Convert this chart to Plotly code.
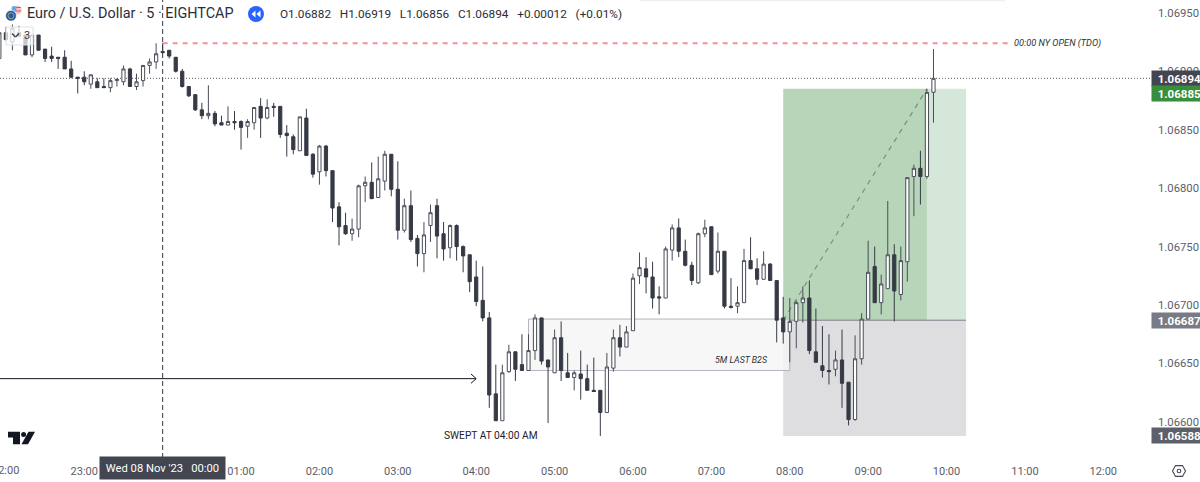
import pandas as pd
import plotly.graph_objects as go

# ---------- data ----------
first_bar = "2023-11-07 21:55"
bar_minutes = 5
opens = [1.06911,1.06933,1.06925,1.06933,1.06931,1.06914,1.06931,1.06919,1.06913,1.06912,1.06912,1.06902,1.06895,1.06895,1.06889,1.06891,1.06887,1.06886,1.06892,1.06891,1.06902,1.06887,1.06892,1.06905,1.06908,
 1.06917,1.06918,1.06912,1.06900,1.06887,1.06880,1.06867,1.06862,1.06864,1.06856,1.06854,1.06857,1.06857,1.06853,1.06856,1.06870,1.06860,1.06870,1.06870,1.06847,1.06844,1.06832,1.06860,1.06829,1.06814,1.06836,
 1.06815,1.06784,1.06768,1.06761,1.06765,1.06802,1.06805,1.06792,1.06806,1.06829,1.06799,1.06764,1.06785,1.06757,1.06744,1.06768,1.06785,1.06761,1.06749,1.06768,1.06750,1.06743,1.06724,1.06704,1.06689,1.06624,1.06601,1.06643,1.06660,1.06649,1.06644,1.06661,1.06689,1.06653,1.06642,1.06672,1.06642,1.06638,1.06641,1.06637,1.06627,1.06627,1.06608,1.06646,1.06672,1.06664,1.06678,1.06725,1.06731,1.06724,1.06707,1.06706,1.06747,1.06766,1.06746,1.06734,1.06719,1.06761,1.06767,1.06729,1.06746,1.06699,1.06699,1.06702,1.06738,1.06731,1.06722,1.06735,1.06721,1.06689,1.06677,1.06686,1.06702,1.06706,1.06660,1.06648,1.06644,1.06645,1.06653,1.06634,1.06602,1.06654,1.06688,1.06733,1.06702,1.06714,1.06743,1.06709,1.06737,1.06810,1.06817,1.06810,1.06882]
highs = [1.06933,1.06938,1.06940,1.06939,1.06931,1.06931,1.06931,1.06919,1.06921,1.06912,1.06918,1.06909,1.06895,1.06900,1.06897,1.06894,1.06894,1.06894,1.06894,1.06905,1.06903,1.06898,1.06905,1.06911,1.06924,
 1.06924,1.06918,1.06912,1.06902,1.06887,1.06880,1.06873,1.06888,1.06866,1.06862,1.06870,1.06866,1.06858,1.06859,1.06869,1.06877,1.06876,1.06873,1.06870,1.06854,1.06846,1.06861,1.06868,1.06830,1.06837,1.06837,
 1.06815,1.06788,1.06779,1.06774,1.06803,1.06810,1.06822,1.06827,1.06832,1.06829,1.06823,1.06791,1.06798,1.06760,1.06771,1.06786,1.06791,1.06771,1.06769,1.06769,1.06751,1.06743,1.06738,1.06733,1.06694,1.06649,1.06649,1.06666,1.06660,1.06675,1.06675,1.06692,1.06689,1.06653,1.06679,1.06686,1.06659,1.06644,1.06661,1.06649,1.06655,1.06627,1.06659,1.06679,1.06683,1.06682,1.06727,1.06745,1.06741,1.06737,1.06716,1.06750,1.06769,1.06774,1.06756,1.06737,1.06762,1.06773,1.06767,1.06762,1.06746,1.06723,1.06716,1.06748,1.06758,1.06740,1.06746,1.06736,1.06721,1.06707,1.06706,1.06704,1.06716,1.06721,1.06697,1.06682,1.06675,1.06661,1.06679,1.06634,1.06674,1.06693,1.06755,1.06750,1.06726,1.06789,1.06752,1.06750,1.06809,1.06820,1.06832,1.06885,1.06919]
lows = [1.06911,1.06927,1.06918,1.06930,1.06914,1.06912,1.06918,1.06908,1.06908,1.06902,1.06902,1.06894,1.06881,1.06888,1.06885,1.06886,1.06886,1.06882,1.06887,1.06888,1.06887,1.06884,1.06887,1.06898,1.06902,
 1.06915,1.06911,1.06899,1.06886,1.06878,1.06866,1.06859,1.06859,1.06853,1.06854,1.06854,1.06850,1.06833,1.06843,1.06850,1.06843,1.06859,1.06861,1.06843,1.06827,1.06829,1.06832,1.06828,1.06809,1.06803,1.06810,
 1.06771,1.06751,1.06760,1.06755,1.06758,1.06788,1.06791,1.06792,1.06798,1.06793,1.06756,1.06762,1.06754,1.06733,1.06728,1.06754,1.06740,1.06738,1.06740,1.06738,1.06728,1.06711,1.06699,1.06686,1.06612,1.06601,1.06601,1.06642,1.06635,1.06644,1.06644,1.06653,1.06649,1.06599,1.06642,1.06635,1.06638,1.06627,1.06619,1.06627,1.06626,1.06588,1.06608,1.06643,1.06656,1.06664,1.06678,1.06718,1.06710,1.06697,1.06692,1.06706,1.06738,1.06741,1.06733,1.06717,1.06718,1.06758,1.06726,1.06727,1.06697,1.06697,1.06693,1.06702,1.06731,1.06717,1.06722,1.06721,1.06668,1.06667,1.06651,1.06663,1.06685,1.06658,1.06651,1.06638,1.06632,1.06639,1.06612,1.06597,1.06601,1.06649,1.06688,1.06702,1.06692,1.06714,1.06686,1.06704,1.06720,1.06776,1.06786,1.06808,1.06856]
closes = [1.06933,1.06927,1.06937,1.06930,1.06914,1.06931,1.06918,1.06911,1.06911,1.06911,1.06902,1.06895,1.06894,1.06891,1.06897,1.06886,1.06886,1.06892,1.06893,1.06902,1.06887,1.06891,1.06905,1.06908,1.06915,
 1.06916,1.06913,1.06900,1.06887,1.06879,1.06867,1.06862,1.06864,1.06855,1.06854,1.06857,1.06856,1.06852,1.06857,1.06869,1.06860,1.06869,1.06869,1.06846,1.06845,1.06833,1.06861,1.06828,1.06812,1.06836,1.06815,
 1.06783,1.06767,1.06761,1.06765,1.06802,1.06805,1.06791,1.06808,1.06829,1.06799,1.06764,1.06785,1.06756,1.06744,1.06760,1.06779,1.06759,1.06748,1.06768,1.06750,1.06742,1.06720,1.06703,1.06689,1.06623,1.06601,1.06642,1.06660,1.06645,1.06644,1.06661,1.06689,1.06652,1.06647,1.06672,1.06644,1.06638,1.06642,1.06637,1.06627,1.06626,1.06608,1.06647,1.06672,1.06664,1.06677,1.06723,1.06732,1.06724,1.06706,1.06706,1.06748,1.06766,1.06746,1.06734,1.06721,1.06761,1.06766,1.06726,1.06746,1.06699,1.06698,1.06702,1.06738,1.06731,1.06722,1.06735,1.06721,1.06687,1.06677,1.06686,1.06702,1.06706,1.06661,1.06651,1.06644,1.06643,1.06653,1.06633,1.06602,1.06654,1.06688,1.06728,1.06702,1.06718,1.06743,1.06712,1.06738,1.06809,1.06817,1.06810,1.06882,1.06894]
assert len(opens) == len(highs) == len(lows) == len(closes) == 144

price_ticks = [1.06600, 1.06650, 1.06700, 1.06750, 1.06800, 1.06850, 1.06900, 1.06950]
time_ticks = ["2023-11-07 23:00", "2023-11-08 01:00", "2023-11-08 02:00", "2023-11-08 03:00", "2023-11-08 04:00",
              "2023-11-08 05:00", "2023-11-08 06:00", "2023-11-08 07:00", "2023-11-08 08:00", "2023-11-08 09:00",
              "2023-11-08 10:00", "2023-11-08 11:00", "2023-11-08 12:00"]
time_labels = ["23:00", "01:00", "02:00", "03:00", "04:00", "05:00", "06:00", "07:00", "08:00", "09:00",
               "10:00", "11:00", "12:00"]
last_price = 1.06894
tdo_price = 1.06924
target_price = 1.06885
entry_price = 1.06687
stop_price = 1.06588
b2s_top, b2s_bottom = 1.06688, 1.06644
swept_price = 1.06637
x_view = ["2023-11-07 21:55:30", "2023-11-08 12:36:30"]
y_view = [1.065691, 1.06961]

INK = "#363a45"
AXIS_TEXT = "#5a5e6b"
FONT = "Roboto, Arial, sans-serif"
W, H = 1200, 482
PW, PH = 1151, 458


def px(x):
    return x / PW


def py(y):
    return 1 - y / PH


def ui_path(points, **kw):
    d = "M " + " L ".join(f"{px(a):.5f},{py(b):.5f}" for a, b in points) + " Z"
    return dict(type="path", xref="paper", yref="paper", path=d, layer="above", **kw)


def ui_circle(cx, cy, r, **kw):
    return dict(type="circle", xref="paper", yref="paper", x0=px(cx - r), x1=px(cx + r),
                y0=py(cy + r), y1=py(cy - r), layer="above", **kw)


times = pd.date_range(first_bar, periods=len(opens), freq=f"{bar_minutes}min")

fig = go.Figure(go.Candlestick(
    x=times, open=opens, high=highs, low=lows, close=closes,
    whiskerwidth=0,
    increasing=dict(line=dict(color="#4a4d58", width=1), fillcolor="#ffffff"),
    decreasing=dict(line=dict(color=INK, width=1), fillcolor=INK),
    hoverinfo="skip", showlegend=False,
))

shapes = [
    # long-position boxes
    dict(type="rect", x0="2023-11-08 07:55", x1="2023-11-08 09:45", y0=entry_price, y1=target_price,
         fillcolor="#b7d5b8", line_width=0, layer="below"),
    dict(type="rect", x0="2023-11-08 09:45", x1="2023-11-08 10:15", y0=entry_price, y1=target_price,
         fillcolor="#d5e7d8", line_width=0, layer="below"),
    dict(type="rect", x0="2023-11-08 07:55", x1="2023-11-08 10:15", y0=stop_price, y1=entry_price,
         fillcolor="#dedee1", line_width=0, layer="below"),
    dict(type="line", x0="2023-11-08 07:55", x1="2023-11-08 10:15", y0=entry_price, y1=entry_price,
         line=dict(color="#7c7f8a", width=1), layer="below"),
    dict(type="line", x0="2023-11-08 07:55", x1="2023-11-08 09:45", y0=entry_price, y1=target_price,
         line=dict(color="#7f8a84", width=1.2, dash="5px,5px"), layer="below"),
    # 5M last B2S box
    dict(type="rect", x0="2023-11-08 04:40", x1="2023-11-08 08:00", y0=b2s_bottom, y1=b2s_top,
         fillcolor="rgba(245,245,245,0.8)", line=dict(color="#b2b5be", width=1), layer="below"),
    # levels
    dict(type="line", x0="2023-11-08 00:00", x1="2023-11-08 10:47", y0=tdo_price, y1=tdo_price,
         line=dict(color="#fb8f98", width=2, dash="5px,5px"), layer="below"),
    dict(type="line", xref="paper", x0=0, x1=1, y0=last_price, y1=last_price,
         line=dict(color="#50535e", width=1, dash="1px,2px"), layer="below"),
    # swept arrow
    dict(type="line", xref="paper", x0=0, x1=px(476), y0=swept_price, y1=swept_price,
         line=dict(color="#131722", width=1), layer="above"),
    dict(type="line", x0="2023-11-08 03:56", x1="2023-11-08 04:00", y0=swept_price + 0.00004, y1=swept_price,
         line=dict(color="#131722", width=1), layer="above"),
    dict(type="line", x0="2023-11-08 03:56", x1="2023-11-08 04:00", y0=swept_price - 0.00004, y1=swept_price,
         line=dict(color="#131722", width=1), layer="above"),
    # crosshair
    dict(type="line", x0="2023-11-08 00:00", x1="2023-11-08 00:00", yref="paper", y0=0, y1=1,
         line=dict(color=INK, width=1, dash="5px,3px"), layer="above"),
    # top shadow strip
    dict(type="rect", xref="paper", yref="paper", x0=px(640), x1=px(1005), y0=py(1.2), y1=py(0),
         fillcolor="#efeff1", line_width=0, layer="above"),
    # legend collapse chip
    dict(type="rect", xref="paper", yref="paper", x0=px(6), x1=px(33), y0=py(45), y1=py(27),
         fillcolor="rgba(255,255,255,0.72)", line=dict(color="#dfe1e8", width=1), layer="above"),
    dict(type="line", xref="paper", yref="paper", x0=px(12), x1=px(15.5), y0=py(33.5), y1=py(37),
         line=dict(color=INK, width=1.2), layer="above"),
    dict(type="line", xref="paper", yref="paper", x0=px(15.5), x1=px(19), y0=py(37), y1=py(33.5),
         line=dict(color=INK, width=1.2), layer="above"),
    # pair icons
    ui_circle(17, 10, 4.6, fillcolor="#f6c6c6", line_width=0),
    dict(type="line", xref="paper", yref="paper", x0=px(15), x1=px(21), y0=py(7.5), y1=py(7.5),
         line=dict(color="#ef5350", width=1), layer="above"),
    dict(type="line", xref="paper", yref="paper", x0=px(15), x1=px(21), y0=py(11), y1=py(11),
         line=dict(color="#ef5350", width=1), layer="above"),
    ui_circle(14, 8.5, 2.5, fillcolor="#64a9e8", line_width=0),
    ui_circle(11, 15.7, 5.4, fillcolor="#1f5bb0", line=dict(color="#ffffff", width=0.6)),
    ui_circle(11, 15.7, 3, fillcolor="#1f5bb0", line=dict(color="#d7b93a", width=0.8)),
    # rewind button
    ui_circle(256, 14, 8, fillcolor="#2962ff", line_width=0),
    ui_path([(255.5, 10.5), (251.5, 14), (255.5, 17.5)], fillcolor="#ffffff", line_width=0),
    ui_path([(260.5, 10.5), (256.5, 14), (260.5, 17.5)], fillcolor="#ffffff", line_width=0),
    # chart-library logo
    ui_path([(8, 431.7), (20, 431.7), (20, 444.3), (13, 444.3), (13, 437.5), (8, 437.5)],
            fillcolor="#131722", line_width=0),
    ui_circle(23.6, 434.4, 2.5, fillcolor="#131722", line_width=0),
    ui_path([(28.5, 431.7), (35, 431.7), (28, 444.3), (21.5, 444.3)], fillcolor="#131722", line_width=0),
    # settings glyph
    ui_path([(1172.5, 471), (1175.5, 465.6), (1182.5, 465.6), (1185.5, 471), (1182.5, 476.4), (1175.5, 476.4)],
            fillcolor="rgba(0,0,0,0)", line=dict(color="#444854", width=1.1)),
    ui_circle(1179, 471, 1.8, fillcolor="rgba(0,0,0,0)", line=dict(color="#444854", width=1.1)),
]


def note(text, x, y, xref="x", yref="y", size=9, color="#2e3039", xanchor="center", family=FONT, **kw):
    return dict(text=text, x=x, y=y, xref=xref, yref=yref, showarrow=False, xanchor=xanchor, yanchor="middle",
                font=dict(size=size, color=color, family=family), **kw)


def price_tag(value, bg, size=11.5, yshift=0):
    return dict(text=f"<b>{value:.5f}</b>", x=1, y=value, xref="paper", yref="y", xanchor="left", yanchor="middle",
                showarrow=False, width=49, height=15, bgcolor=bg, align="right", borderpad=0, yshift=yshift,
                font=dict(size=size, color="#ffffff", family=FONT))


GAP = "\u00a0\u00a0\u00a0"
annotations = [
    note("<i>00:00 NY OPEN (TDO)</i>", "2023-11-08 10:50", tdo_price, size=9.2, xanchor="left"),
    note("<i>5M LAST B2S</i>", "2023-11-08 07:23", 1.06653, size=8.8),
    note("SWEPT AT 04:00 AM", "2023-11-08 04:11", stop_price, size=10.2, color="#1f2129"),
    note("22:00", "2023-11-07 22:00", py(470), "x", "paper", size=11, color=AXIS_TEXT),
    note("Euro / U.S. Dollar · 5 · EIGHTCAP", px(25), py(14), "paper", "paper", size=14.4, color="#2a2e39", xanchor="left"),
    note(GAP.join(["O1.06882", "H1.06919", "L1.06856", "C1.06894", "+0.00012", "(+0.01%)"]),
         px(278), py(14), "paper", "paper", size=11.8, color="#2a2e39", xanchor="left"),
    note("3", px(26.5), py(36), "paper", "paper", size=11, color=INK),
    dict(text="Wed 08 Nov '23 \u00a0 00:00", x=px(162.5), y=py(468.2), xref="paper", yref="paper", showarrow=False,
         xanchor="center", yanchor="middle", width=125, height=22, bgcolor="#434651", borderpad=0,
         font=dict(size=11.2, color="#ffffff", family=FONT)),
    price_tag(last_price, "#434651"),
    price_tag(target_price, "#388e3c", yshift=-5),
    price_tag(entry_price, "#787b86"),
    price_tag(stop_price, "#5d606b"),
]

fig.update_layout(
    width=W, height=H, autosize=False,
    margin=dict(l=0, r=W - PW, t=0, b=H - PH, pad=0),
    paper_bgcolor="#ffffff", plot_bgcolor="#ffffff",
    showlegend=False, hovermode=False, dragmode=False,
    font=dict(family=FONT, size=11, color=AXIS_TEXT),
    shapes=shapes, annotations=annotations,
    xaxis=dict(type="date", range=x_view, rangeslider=dict(visible=False),
               tickmode="array", tickvals=time_ticks, ticktext=time_labels,
               showgrid=False, zeroline=False, showline=False, ticks="", ticklabelstandoff=5,
               tickfont=dict(size=11, color=AXIS_TEXT, family=FONT)),
    yaxis=dict(side="right", range=y_view, tickmode="array", tickvals=price_ticks,
               ticktext=[f"{v:.5f}" for v in price_ticks],
               showgrid=False, zeroline=False, showline=False, ticks="", ticklabelstandoff=6,
               tickfont=dict(size=11.3, color=AXIS_TEXT, family=FONT)),
)

fig.write_html("out.html", config={"displayModeBar": False, "staticPlot": True},
               post_script="document.body.style.margin='0';document.documentElement.style.overflow='hidden';")
